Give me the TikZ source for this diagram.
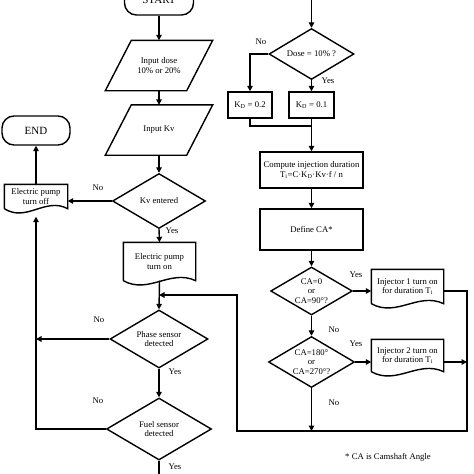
\documentclass[tikz,border=0pt]{standalone}
\usepackage{fontspec}
\setmainfont{Liberation Serif}
\usetikzlibrary{shapes.geometric,arrows.meta,calc}
\newcommand{\docwave}[1]{%
\draw [black] (#1.south west) -- (#1.north west) -- (#1.north east) -- (#1.south east)
  .. controls ($(#1.south east)!0.35!(#1.south west)+(0,-12)$) and ($(#1.south east)!0.65!(#1.south west)+(0,14)$) .. (#1.south west);}
\newcommand{\ioslant}[1]{%
\draw [black] ([xshift=-13pt]#1.south west) -- ([xshift=13pt]#1.north west) -- ([xshift=13pt]#1.north east) -- ([xshift=-13pt]#1.south east) -- cycle;}
\begin{document}
\begin{tikzpicture}[x=1pt,y=-1pt,line width=1.4pt,font=\fontsize{8.7}{9.2}\selectfont]
\tikzstyle{every node}+=[inner sep=0pt]
\tikzstyle{flow}=[-{Triangle[length=5.5pt,width=5.5pt]}]
\tikzstyle{term}=[draw, rounded corners=12pt, minimum width=68pt, minimum height=29pt, font=\fontsize{11}{12}\selectfont]
\tikzstyle{io}=[minimum width=80pt, minimum height=49pt, align=center]
\tikzstyle{decision}=[draw, diamond, aspect=2, align=center]
\tikzstyle{process}=[draw, align=center]
\tikzstyle{doc}=[align=center]
\useasboundingbox (0,0) rectangle (474,474);
\clip (0,0) rectangle (474,474);
% left column
\node [term, minimum width=69pt, minimum height=30pt] (start) at (159,0) {START};
\node [io] (dose) at (159,65.5) {Input dose\\10\% or 20\%};
\ioslant{dose}
\node [io] (kvin) at (159,130) {Input Kv};
\ioslant{kvin}
\node [decision, minimum width=93pt, minimum height=55pt] (kventer) at (159,201) {Kv entered};
\node [doc, minimum width=62pt, minimum height=23pt] (pumpoff) at (36,196.5) {Electric pump\\turn off};
\docwave{pumpoff}
\node [term] (end) at (36,130.5) {END};
\node [doc, minimum width=71pt, minimum height=37pt] (pumpon) at (159.5,261.5) {Electric pump\\turn on};
\docwave{pumpon}
\node [decision, minimum width=98pt, minimum height=58pt] (phase) at (159,339) {Phase sensor\\detected};
\node [decision, minimum width=105pt, minimum height=62pt] (fuel) at (159,429) {Fuel sensor\\detected};
% right column
\node [decision, minimum width=85pt, minimum height=51pt] (dosechk) at (311.5,54) {Dose = 10\% ?};
\node [process, minimum width=44pt, minimum height=26pt] (kd2) at (250,105) {K\textsubscript{D} = 0.2};
\node [process, minimum width=45pt, minimum height=26pt] (kd1) at (311.5,105) {K\textsubscript{D} = 0.1};
\node [process, minimum width=103pt, minimum height=36pt] (compute) at (311.5,170) {Compute injection duration\\T\textsubscript{i}=C·K\textsubscript{D}·Kv·f / n};
\node [process, minimum width=103pt, minimum height=41pt] (defca) at (311.5,229.5) {Define CA*};
\node [decision, minimum width=81pt, minimum height=48pt] (ca1) at (311.5,291) {CA=0\\or\\CA=90°?};
\node [decision, minimum width=81pt, minimum height=51pt] (ca2) at (311.5,362) {CA=180°\\or\\CA=270°?};
\node [doc, minimum width=71pt, minimum height=33pt] (inj1) at (407.5,286.5) {Injector 1 turn on\\for duration T\textsubscript{i}};
\docwave{inj1}
\node [doc, minimum width=71pt, minimum height=31pt] (inj2) at (407.5,355.5) {Injector 2 turn on\\for duration T\textsubscript{i}};
\docwave{inj2}
\node (note) at (388,457) {* CA is Camshaft Angle};
\coordinate (topin) at (311.5,-5);
\coordinate (kdjoin) at (311.5,126);
\coordinate (loopr) at (467,291);
\coordinate (loopbr) at (467,431);
\coordinate (loopbl) at (237,431);
\coordinate (looptl) at (237,295);
\coordinate (back) at (159,295);
\coordinate (fuelout) at (159,480);
% left connectors
\draw [flow] (start.south) -- (dose.north);
\draw [flow] (dose.south) -- (kvin.north);
\draw [flow] (kvin.south) -- (kventer.north);
\draw [flow] (kventer.west) -- (kventer.west -| pumpoff.east);
\draw [flow] (pumpoff.north) -- (end.south);
\draw [flow] (kventer.south) -- (pumpon.north);
\draw [flow] (pumpon.south) -- (phase.north);
\draw [flow] (phase.west) -- (phase.west -| pumpoff.south);
\draw [flow] (phase.south) -- (fuel.north);
\draw [flow] (fuel.west) -| ([yshift=-8pt]pumpoff.south);
\draw (fuel.south) -- (fuelout);
% right connectors
\draw [flow] (topin) -- (dosechk.north);
\draw [flow] (dosechk.west) -| (kd2.north);
\draw [flow] (dosechk.south) -- (kd1.north);
\draw (kd2.south) |- (kdjoin);
\draw [flow] (kd1.south) -- (compute.north);
\draw [flow] (compute.south) -- (defca.north);
\draw [flow] (defca.south) -- (ca1.north);
\draw [flow] (ca1.east) -- (ca1.east -| inj1.west);
\draw [flow] (ca1.south) -- (ca2.north);
\draw [flow] (ca2.east) -- (ca2.east -| inj2.west);
\draw [flow] (ca2.east -| inj2.east) -- (ca2.east -| loopr);
\draw [flow] (ca2.south) -- (ca2.south |- loopbl);
\draw [flow] (ca1.east -| inj1.east) -- (loopr) -- (loopbr) -- (loopbl) -- (looptl) -- (back);
% labels
\node (no1) at (98,188) {No};
\node (yes1) at (172,231) {Yes};
\node (no2) at (99,320) {No};
\node (yes2) at (175,372) {Yes};
\node (no3) at (98,401) {No};
\node (yes3) at (175,467) {Yes};
\node (no4) at (261,42) {No};
\node (yes4) at (328,81) {Yes};
\node (yes5) at (356,275) {Yes};
\node (no5) at (334,330) {No};
\node (yes6) at (356,344) {Yes};
\node (no6) at (334,403) {No};
\end{tikzpicture}
\end{document}
